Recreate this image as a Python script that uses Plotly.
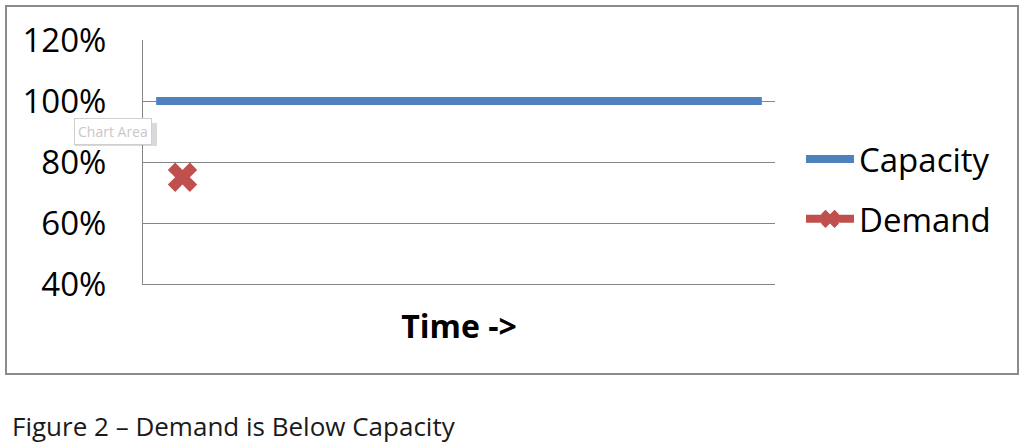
import plotly.graph_objects as go

# time steps along the x axis (no tick labels shown)
time_steps = [1, 2, 3, 4, 5, 6, 7, 8, 9, 10, 11, 12,
              13, 14, 15, 16, 17, 18, 19, 20, 21, 22, 23, 24]
capacity = [1.0, 1.0, 1.0, 1.0, 1.0, 1.0, 1.0, 1.0, 1.0, 1.0, 1.0, 1.0,
            1.0, 1.0, 1.0, 1.0, 1.0, 1.0, 1.0, 1.0, 1.0, 1.0, 1.0, 1.0]
demand_time = [2]
demand = [0.75]

y_ticks = [0.4, 0.6, 0.8, 1.0, 1.2]

blue = "#4F81BD"
red = "#C0504D"
grid = "#868686"
font = "Open Sans"

fig = go.Figure()

fig.add_trace(go.Scatter(
    x=time_steps, y=capacity, name="Capacity", mode="lines",
    line=dict(color=blue, width=8),
    legendgroup="cap",
))
fig.add_trace(go.Scatter(
    x=demand_time, y=demand, name="Demand", mode="lines+markers",
    line=dict(color=red, width=8),
    marker=dict(symbol="x", size=26, color=red, line=dict(width=0)),
    legendgroup="dem",
))

fig.update_xaxes(
    range=[0.5, 24.5],
    showgrid=False, zeroline=False, showticklabels=False,
    showline=True, linecolor=grid, linewidth=1,
    title=dict(text="<b>Time -></b>", font=dict(family=font, size=32, color="black"), standoff=31),
)
fig.update_yaxes(
    range=[0.4, 1.2], tickvals=y_ticks, tickformat=".0%",
    showgrid=True, gridcolor=grid, gridwidth=1, zeroline=False,
    showline=True, linecolor=grid, linewidth=1,
    ticks="", ticklabelstandoff=29,
    tickfont=dict(family=font, size=33, color="black"),
)

# paper coords of the outer chart-area frame (plot area is 632 x 244 px)
pw, ph = 632.0, 244.0
fig.add_shape(
    type="rect", xref="paper", yref="paper",
    x0=(6 - 143) / pw, x1=(1018 - 143) / pw,
    y0=(284 - 374) / ph, y1=(284 - 6) / ph,
    line=dict(color="#8c8c8c", width=2), fillcolor="rgba(0,0,0,0)", layer="below",
)

# Excel hover tooltip left in the screenshot (soft shadow + box)
fig.add_shape(
    type="rect", xref="paper", yref="paper",
    x0=(75 - 143) / pw, x1=(157 - 143) / pw,
    y0=(284 - 146) / ph, y1=(284 - 123) / ph,
    line=dict(width=0), fillcolor="rgba(0,0,0,0.15)",
)
fig.add_annotation(
    xref="paper", yref="paper",
    x=(113 - 143) / pw, y=(284 - 131) / ph, xanchor="center", yanchor="middle",
    text="Chart Area", showarrow=False,
    font=dict(family=font, size=14, color="#c8c8c8"),
    bgcolor="white", bordercolor="#d0d0d0", borderwidth=1, borderpad=3,
)

# caption below the chart
fig.add_annotation(
    xref="paper", yref="paper",
    x=(10 - 143) / pw, y=(284 - 426) / ph, xanchor="left", yanchor="middle",
    text="Figure 2 – Demand is Below Capacity", showarrow=False,
    font=dict(family=font, size=26, color="#1a1a1a"),
)

fig.update_layout(
    width=1025, height=447,
    margin=dict(l=143, r=250, t=40, b=163),
    paper_bgcolor="white", plot_bgcolor="white",
    font=dict(family=font, color="black"),
    showlegend=True,
    legend=dict(
        x=(801 - 143) / pw, y=(284 - 189) / ph, xanchor="left", yanchor="middle",
        font=dict(family=font, size=33, color="black"),
        tracegroupgap=14, traceorder="grouped", itemwidth=48,
        bgcolor="rgba(0,0,0,0)",
    ),
)

fig.write_html(
    "out.html",
    config={"displayModeBar": False},
    post_script="document.body.style.margin = '0';",
)
